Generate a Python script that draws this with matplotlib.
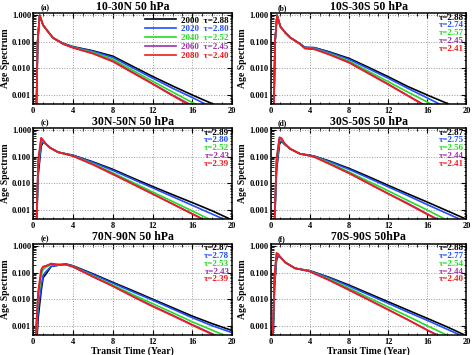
import numpy as np
import matplotlib
matplotlib.use('Agg')
import matplotlib.pyplot as plt
from matplotlib.ticker import MultipleLocator, FixedLocator, LogLocator, NullFormatter

plt.rcParams['font.family'] = ['Liberation Serif', 'DejaVu Serif']
plt.rcParams['font.weight'] = 'bold'

# 시나리오 연도, 색
years = ['2000', '2020', '2040', '2060', '2080']
colors = ['#000000', '#1f4fff', '#22dd22', '#9932a8', '#ee1c1c']

titles = ['10-30N 50 hPa', '10S-30S 50 hPa', '30N-50N 50 hPa',
          '30S-50S 50 hPa', '70N-90N 50 hPa', '70S-90S 50hPa']
labels = ['(a)', '(b)', '(c)', '(d)', '(e)', '(f)']

# 평균 연령 tau
tau_a = [2.88, 2.80, 2.52, 2.45, 2.40]
tau_b = [2.88, 2.74, 2.57, 2.45, 2.41]
tau_c = [2.89, 2.80, 2.52, 2.43, 2.39]
tau_d = [2.87, 2.75, 2.56, 2.44, 2.41]
tau_e = [2.87, 2.78, 2.53, 2.43, 2.39]
tau_f = [2.88, 2.77, 2.54, 2.44, 2.40]

# (a) 10-30N
x_a = [0.0, 0.3, 0.45, 0.65, 1.0, 1.5, 2.0, 3.0, 4.0, 6.0, 8.0, 10.0, 12.0, 14.0, 16.0, 18.0, 20.0]
y_a = [
    [1e-6, 1e-4, 0.1, 1.0, 0.42, 0.24, 0.14, 0.088, 0.066, 0.046, 0.029, 0.012, 0.0050, 0.0022, 0.0010, 0.00047, 0.00021],
    [1e-6, 1e-4, 0.1, 1.0, 0.42, 0.24, 0.14, 0.088, 0.065, 0.044, 0.026, 0.0105, 0.0043, 0.0018, 0.00080, 0.00034, 0.00015],
    [1e-6, 1e-4, 0.1, 1.0, 0.42, 0.24, 0.14, 0.085, 0.062, 0.040, 0.022, 0.0085, 0.0033, 0.0013, 0.00052, 0.00021, 0.0001],
    [1e-6, 1e-4, 0.1, 1.0, 0.42, 0.24, 0.14, 0.083, 0.060, 0.037, 0.019, 0.0072, 0.0027, 0.0010, 0.00040, 0.00016, 0.00007],
    [1e-6, 1e-4, 0.12, 1.0, 0.42, 0.24, 0.14, 0.083, 0.060, 0.036, 0.018, 0.0068, 0.0026, 0.00095, 0.00036, 0.00014, 0.00006],
]

# (b) 10S-30S
x_b = [0.0, 0.3, 0.45, 0.65, 1.0, 1.5, 2.0, 3.0, 3.5, 4.5, 6.0, 8.0, 10.0, 12.0, 14.0, 16.0, 18.0, 20.0]
y_b = [
    [1e-6, 1e-4, 0.1, 1.0, 0.37, 0.22, 0.145, 0.085, 0.062, 0.060, 0.042, 0.024, 0.011, 0.0049, 0.0021, 0.0010, 0.00049, 0.0002],
    [1e-6, 1e-4, 0.1, 1.0, 0.37, 0.22, 0.145, 0.085, 0.062, 0.060, 0.040, 0.022, 0.0098, 0.0043, 0.0018, 0.00078, 0.00033, 0.00014],
    [1e-6, 1e-4, 0.1, 1.0, 0.37, 0.22, 0.145, 0.083, 0.058, 0.055, 0.036, 0.019, 0.0078, 0.0032, 0.0013, 0.00055, 0.00022, 0.0001],
    [1e-6, 1e-4, 0.1, 1.0, 0.37, 0.22, 0.145, 0.083, 0.057, 0.053, 0.034, 0.017, 0.0067, 0.0026, 0.00097, 0.00037, 0.00014, 0.00006],
    [1e-6, 1e-4, 0.12, 1.0, 0.37, 0.22, 0.145, 0.082, 0.056, 0.052, 0.033, 0.0165, 0.0064, 0.0025, 0.00094, 0.00035, 0.00013, 0.00005],
]

# (c) 30N-50N
x_c = [0.0, 0.3, 0.5, 0.8, 1.0, 1.3, 1.7, 2.5, 3.5, 4.0, 6.0, 8.0, 10.0, 12.0, 14.0, 16.0, 18.0, 20.0]
y_c = [
    [1e-6, 1e-4, 0.02, 0.25, 0.36, 0.30, 0.22, 0.15, 0.125, 0.115, 0.065, 0.034, 0.016, 0.0077, 0.0038, 0.0019, 0.00093, 0.00042],
    [1e-6, 1e-4, 0.03, 0.30, 0.36, 0.30, 0.22, 0.15, 0.125, 0.114, 0.062, 0.031, 0.0145, 0.0068, 0.0032, 0.0015, 0.0007, 0.00033],
    [1e-6, 1e-4, 0.05, 0.45, 0.40, 0.30, 0.22, 0.15, 0.122, 0.110, 0.055, 0.025, 0.011, 0.0048, 0.0021, 0.00092, 0.0004, 0.00018],
    [1e-6, 1e-4, 0.06, 0.50, 0.42, 0.30, 0.22, 0.15, 0.120, 0.108, 0.052, 0.023, 0.0097, 0.0041, 0.0017, 0.00073, 0.0003, 0.00013],
    [1e-6, 1e-4, 0.08, 0.52, 0.42, 0.30, 0.22, 0.15, 0.120, 0.107, 0.051, 0.022, 0.0094, 0.0040, 0.0017, 0.00070, 0.0003, 0.00013],
]

# (d) 30S-50S
x_d = [0.0, 0.35, 0.6, 0.9, 1.1, 1.4, 2.0, 3.0, 4.0, 4.5, 6.0, 8.0, 10.0, 12.0, 14.0, 16.0, 18.0, 20.0]
y_d = [
    [1e-6, 1e-4, 0.03, 0.30, 0.39, 0.30, 0.20, 0.13, 0.115, 0.105, 0.070, 0.037, 0.018, 0.0085, 0.0041, 0.0020, 0.00095, 0.00045],
    [1e-6, 1e-4, 0.04, 0.35, 0.40, 0.30, 0.20, 0.13, 0.115, 0.104, 0.067, 0.034, 0.016, 0.0075, 0.0035, 0.0016, 0.00075, 0.00035],
    [1e-6, 1e-4, 0.06, 0.45, 0.45, 0.32, 0.20, 0.13, 0.110, 0.100, 0.060, 0.027, 0.012, 0.0053, 0.0023, 0.0010, 0.00042, 0.0002],
    [1e-6, 1e-4, 0.08, 0.50, 0.50, 0.33, 0.20, 0.13, 0.110, 0.098, 0.055, 0.025, 0.0102, 0.0042, 0.0018, 0.00072, 0.0003, 0.00013],
    [1e-6, 1e-4, 0.09, 0.55, 0.50, 0.33, 0.20, 0.13, 0.110, 0.097, 0.054, 0.024, 0.0099, 0.0041, 0.0017, 0.00069, 0.00028, 0.00012],
]

# (e) 70N-90N
x_e = [0.0, 0.3, 0.5, 0.8, 1.0, 1.3, 1.8, 2.5, 3.3, 4.0, 6.0, 8.0, 10.0, 12.0, 14.0, 16.0, 18.0, 20.0]
y_e = [
    [1e-6, 1e-4, 0.002, 0.02, 0.065, 0.09, 0.17, 0.19, 0.21, 0.18, 0.09, 0.043, 0.021, 0.010, 0.0048, 0.0023, 0.0012, 0.00066],
    [1e-6, 2e-4, 0.004, 0.03, 0.08, 0.11, 0.17, 0.19, 0.21, 0.175, 0.085, 0.040, 0.019, 0.0092, 0.0043, 0.0020, 0.0010, 0.00055],
    [1e-6, 5e-4, 0.01, 0.08, 0.13, 0.16, 0.20, 0.20, 0.20, 0.17, 0.075, 0.034, 0.015, 0.0068, 0.0031, 0.0014, 0.00068, 0.00033],
    [1e-6, 8e-4, 0.015, 0.11, 0.16, 0.18, 0.21, 0.20, 0.20, 0.165, 0.070, 0.031, 0.013, 0.0056, 0.0025, 0.0011, 0.0005, 0.00022],
    [1e-6, 1e-3, 0.02, 0.13, 0.17, 0.18, 0.22, 0.20, 0.20, 0.165, 0.070, 0.031, 0.0125, 0.0053, 0.0024, 0.00105, 0.00047, 0.0002],
]

# (f) 70S-90S
x_f = [0.0, 0.2, 0.4, 0.6, 0.75, 1.0, 1.5, 2.5, 3.5, 4.0, 6.0, 8.0, 10.0, 12.0, 14.0, 16.0, 18.0, 20.0]
y_f = [
    [1e-6, 1e-4, 0.03, 0.30, 0.42, 0.37, 0.24, 0.145, 0.125, 0.118, 0.066, 0.034, 0.0165, 0.0080, 0.0039, 0.0019, 0.00092, 0.00042],
    [1e-6, 1e-4, 0.04, 0.35, 0.44, 0.37, 0.24, 0.145, 0.125, 0.117, 0.063, 0.031, 0.0148, 0.0070, 0.0033, 0.0016, 0.00075, 0.00035],
    [1e-6, 2e-4, 0.06, 0.45, 0.50, 0.38, 0.24, 0.145, 0.123, 0.113, 0.056, 0.026, 0.0115, 0.0051, 0.0023, 0.0010, 0.00045, 0.0002],
    [1e-6, 3e-4, 0.08, 0.52, 0.50, 0.38, 0.24, 0.145, 0.122, 0.110, 0.052, 0.023, 0.0097, 0.0041, 0.0017, 0.0007, 0.0003, 0.00012],
    [1e-6, 3e-4, 0.09, 0.55, 0.50, 0.38, 0.24, 0.145, 0.122, 0.110, 0.051, 0.022, 0.0094, 0.0040, 0.0017, 0.00068, 0.00029, 0.00012],
]

xs = [x_a, x_b, x_c, x_d, x_e, x_f]
ys = [y_a, y_b, y_c, y_d, y_e, y_f]
taus = [tau_a, tau_b, tau_c, tau_d, tau_e, tau_f]

fig = plt.figure(figsize=(4.74, 3.55), dpi=100)

# 패널 위치 (left, bottom, width, height)
lefts = [0.070, 0.571]
widths = [0.420, 0.413]
bottoms = [0.707, 0.383, 0.057]
h = 0.256

for i in range(6):
    row, col = i // 2, i % 2
    ax = fig.add_axes([lefts[col], bottoms[row], widths[col], h])
    for k in range(5):
        ax.plot(xs[i], ys[i][k], color=colors[k], lw=1.2, label=years[k] + '  τ=%.2f' % taus[i][k])

    ax.set_yscale('log')
    ax.set_xlim(0, 20)
    ax.set_ylim(0.00046, 1.2)
    ax.xaxis.set_major_locator(MultipleLocator(4))
    ax.xaxis.set_minor_locator(MultipleLocator(1))
    ax.yaxis.set_major_locator(FixedLocator([0.001, 0.01, 0.1, 1.0]))
    ax.yaxis.set_minor_locator(LogLocator(base=10, subs=np.arange(2, 10)))
    ax.yaxis.set_minor_formatter(NullFormatter())
    ax.set_yticklabels(['0.001', '0.010', '0.100', '1.000'])
    ax.tick_params(which='both', direction='in', top=True, right=True, labelsize=6)
    ax.tick_params(axis='x', pad=2)
    ax.tick_params(axis='y', pad=1.5)
    ax.tick_params(which='major', length=3.5, width=0.8)
    ax.tick_params(which='minor', length=1.8, width=0.6)
    for lab in ax.get_xticklabels() + ax.get_yticklabels():
        lab.set_fontweight('bold')
    ax.grid(True, which='major', linestyle=':', color='#999999', lw=0.7)
    for s in ax.spines.values():
        s.set_linewidth(1.1)

    ax.set_ylabel('Age Spectrum', fontsize=7, fontweight='bold', labelpad=1.5)
    if row == 2:
        ax.set_xlabel('Transit Time (Year)', fontsize=7, fontweight='bold', labelpad=0.5)
    ax.set_title(titles[i], fontsize=8.5, fontweight='bold', pad=2.5)
    ax.text(0.035, 1.035, labels[i], transform=ax.transAxes, fontsize=5.5, fontweight='bold')

    if i == 0:
        ax.legend(loc='upper right', frameon=False, handlelength=3.4,
                  handletextpad=0.6, labelspacing=0.05, borderaxespad=0.15,
                  borderpad=0.2, labelcolor='linecolor', prop={'weight': 'bold', 'size': 6.5})
    else:
        for k in range(5):
            ax.text(0.985, 0.95 - k * 0.085, 'τ=%.2f' % taus[i][k], transform=ax.transAxes,
                    ha='right', va='center', fontsize=6.5, fontweight='bold', color=colors[k])

fig.savefig('out.png', dpi=100)
